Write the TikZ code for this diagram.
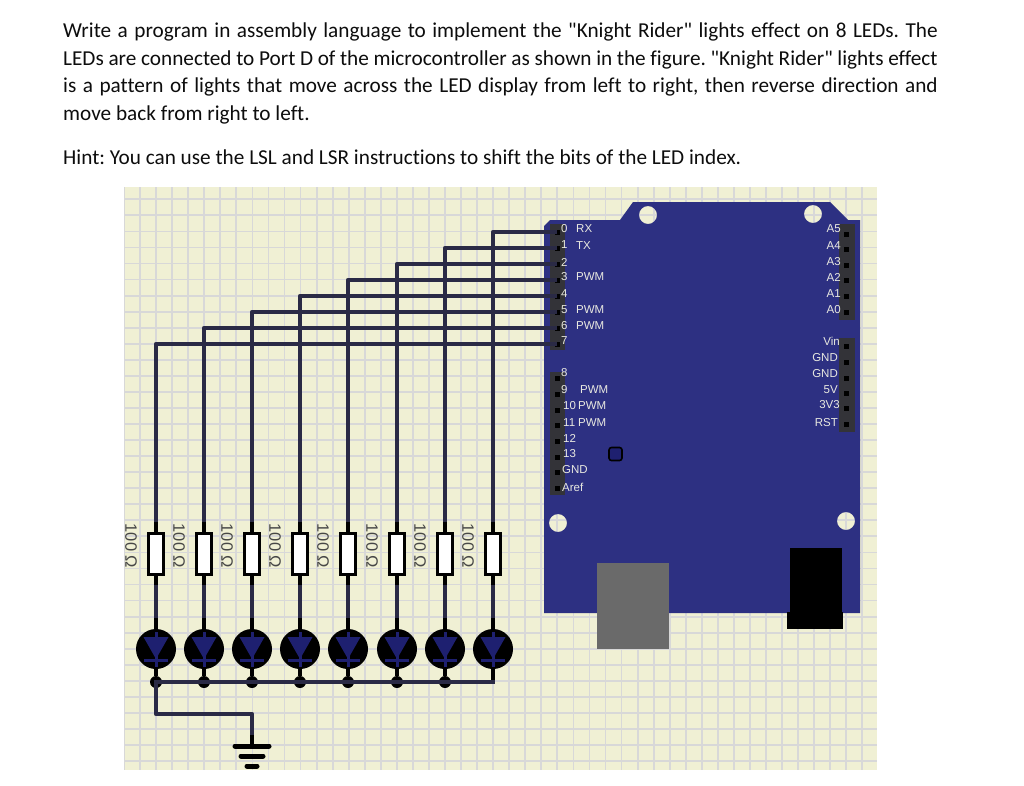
\documentclass[tikz,border=0pt]{standalone}
\usepackage{fontspec}
\usetikzlibrary{calc}
\setmainfont{Liberation Sans}
\newfontfamily\bodyfont[Ligatures={NoCommon}]{Carlito}
\newfontfamily\symfont{Liberation Sans}
\frenchspacing
\definecolor{bgc}{HTML}{F0F0D4}
\definecolor{gridc}{HTML}{D8D8D8}
\definecolor{boardc}{HTML}{2D3082}
\definecolor{wirec}{HTML}{2A2A45}
\definecolor{ledc}{HTML}{1E2070}
\definecolor{hdrc}{HTML}{333338}
\definecolor{usbc}{HTML}{6A6A6A}
\definecolor{labc}{HTML}{E8E8E0}
\tikzset{
 wire/.style={draw=wirec,line width=4.7pt,line join=round},
 stub/.style={draw=black,line width=4.7pt},
 resbox/.style={draw=black,fill=white,line width=3pt,minimum width=15.5pt,minimum height=41.5pt,inner sep=0pt},
 ledbody/.style={circle,fill=black,minimum size=40pt,inner sep=0pt},
 junction/.style={circle,fill=black,minimum size=12pt,inner sep=0pt},
 pin/.style={fill=black,minimum size=5pt,inner sep=0pt},
 pl/.style={text=labc,font=\fontsize{11.5}{11.5}\selectfont,inner sep=0pt,anchor=west},
 pr/.style={text=labc,font=\fontsize{11.5}{11.5}\selectfont,inner sep=0pt,anchor=east},
 body/.style={font=\bodyfont\fontsize{21.25}{21.25}\selectfont\frenchspacing,inner sep=0pt,anchor=base west,text=black!95},
 ohm/.style={font=\fontsize{16.5}{16.5}\selectfont,text=black!72,rotate=-90,inner sep=0pt},
 gbar/.style={draw=black,line width=5pt,line cap=round},
}
\begin{document}
\begin{tikzpicture}[x=1pt,y=-1pt]
\useasboundingbox (0,0) rectangle (1024,785);
\fill[white] (0,0) rectangle (1024,785);
% text
\node[body] (t1) at (63,37.5) {\makebox[874.5pt][s]{Write a program in assembly language to implement the "Knight Rider" lights effect on 8 LEDs. The}};
\node[body] (t2) at (63,65) {\makebox[874.5pt][s]{LEDs are connected to Port D of the microcontroller as shown in the figure. "Knight Rider" lights effect}};
\node[body] (t3) at (63,92.7) {\makebox[874.5pt][s]{is a pattern of lights that move across the LED display from left to right, then reverse direction and}};
\node[body] (t4) at (63,120.5) {move back from right to left.};
\node[body] (t5) at (63,164) {Hint: You can use the LSL and LSR instructions to shift the bits of the LED index.};
% ground sheet
\fill[bgc] (124,187) rectangle (877,770);
\begin{scope}
\clip (124,187) rectangle (877,770);
\foreach \k in {0,...,46} \draw[gridc,line width=1.8pt] ({124+16.05*\k},187) -- ({124+16.05*\k},770);
\foreach \k in {0,...,35} \draw[gridc,line width=1.8pt] (124,{199.3+16.05*\k}) -- (877,{199.3+16.05*\k});
\end{scope}
% board
\fill[boardc,even odd rule] (550,220) -- (620,220) -- (633,202) -- (830,202) -- (848,220) -- (860,220) -- (860,613) -- (544,613) -- (544,226) -- cycle
 (648,215) circle[radius=9] (813,214) circle[radius=9] (558,523) circle[radius=9] (846,521) circle[radius=9];
% usb and jack
\fill[usbc] (597,563) rectangle (669,649);
\fill[black] (790,548) rectangle (842,613);
\fill[black] (787,612) rectangle (843,629);
% headers
\fill[hdrc] (550,224) rectangle (565,350);
\fill[hdrc] (550,372) rectangle (565,495);
\fill[hdrc] (839,224) rectangle (855,320);
\fill[hdrc] (839,338) rectangle (855,432);
% pins
\foreach \i/\y in {0/232,1/248,2/264,3/280,4/296,5/312,6/328,7/344} \node[pin] (p\i) at (557,\y) {};
\foreach \i/\y in {8/378,9/394,10/410,11/425,12/441,13/457,14/472,15/488} \node[pin] (p\i) at (557,\y) {};
\foreach \i/\y in {0/234,1/249,2/265,3/280,4/296,5/312,6/346,7/362,8/378,9/393,10/408,11/424} \node[pin] (q\i) at (846,\y) {};
% LED on board
\node[draw=black,fill=ledc,line width=1.6pt,rounded corners=2.5pt,minimum width=13pt,minimum height=13pt,inner sep=0pt] (boardled) at (615.5,454) {};
% resistors, LEDs, junctions
\foreach \i/\x in {0/493,1/445,2/397,3/348,4/300,5/252,6/204,7/156} {
  \node[resbox] (r\i) at (\x,554) {};
  \node[ledbody] (l\i) at (\x,649) {};
  \node[ohm] (o\i) at (\x-25,546) {100 {\symfont Ω}};
}
\foreach \i/\x in {1/445,2/397,3/348,4/300,5/252,6/204,7/156} \node[junction] (j\i) at (\x,682) {};
\coordinate (j0) at (493,682);
\node[inner sep=0pt,minimum size=0pt] (g) at (252,746) {};
% wires
\foreach \i in {0,...,7} {
  \draw[wire] (p\i.center) -| (r\i.north);
  \draw[wire] (r\i.south) -- (l\i.north);
  \draw[stub] (r\i.north) -- ++(0,-10);
  \draw[stub] (r\i.south) -- ++(0,9);
  \draw[stub] (l\i.north) -- ++(0,-11);
  \draw[stub] (l\i.south) -- (j\i);
  \fill[ledc] ($(l\i.center)+(-12.5,-12)$) -- ++(25,0) -- ++(-12.5,22) -- cycle;
  \draw[ledc,line width=3pt] ($(l\i.center)+(-12,11)$) -- ++(24,0);
  \draw[ledc,line width=3pt] ($(l\i.center)+(0,-17)$) -- ++(0,35);
}
\draw[wire,line cap=rect] (j7.center) -- (j0);
\draw[wire] (j7.center) -- ++(0,32) -| (g.center);
\draw[stub] (252,735) -- (g.center);
\node[inner sep=0pt] (g1) at (252,756) {};
\node[inner sep=0pt] (g2) at (252,766) {};
\draw[gbar] ($(g)+(-17,0)$) -- ($(g)+(17,0)$);
\draw[gbar] ($(g1)+(-11,0)$) -- ($(g1)+(11,0)$);
\draw[gbar] ($(g2)+(-5,0)$) -- ($(g2)+(5,0)$);
% labels
\foreach \n/\t/\x/\y in {a0/0/561/229,a1/1/561/245,a2/2/561/262,a3/3/561/277,a4/4/561/294,a5/5/561/310,a6/6/561/326,a7/7/561/341,a8/8/561/373,a9/9/561/390,a10/10/563/406,a11/11/563/423,a12/12/563/438,a13/13/563/454,a14/GND/562/470,a15/Aref/562/487,
 b0/RX/576/229,b1/TX/576/246,b3/PWM/576/277,b5/PWM/576/310,b6/PWM/576/326,b9/PWM/580/390,b10/PWM/578/406,b11/PWM/578/423}
 \node[pl] (\n) at (\x,\y) {\t};
\foreach \n/\t/\x/\y in {c0/A5/841/229,c1/A4/841/246,c2/A3/841/262,c3/A2/841/277,c4/A1/841/294,c5/A0/841/310,c6/Vin/840/341,c7/GND/838/358,c8/GND/838/374,c9/5V/838/390,c10/3V3/840/405,c11/RST/838/423}
 \node[pr] (\n) at (\x,\y) {\t};
\end{tikzpicture}
\end{document}
